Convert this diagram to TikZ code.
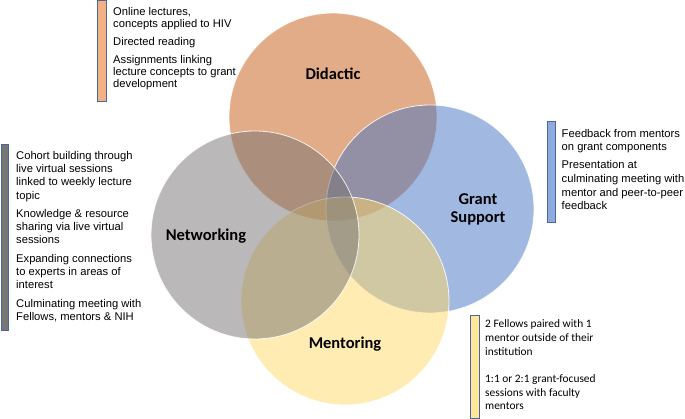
\documentclass[tikz,border=0pt]{standalone}
\usepackage{fontspec}
\setmainfont{Liberation Sans}
\newfontfamily\calfont{Carlito}
\definecolor{cOrange}{HTML}{C55A11}
\definecolor{cBlue}{HTML}{4472C4}
\definecolor{cYellow}{HTML}{FFD966}
\definecolor{cGray}{HTML}{767171}
\definecolor{barOrange}{HTML}{F4B183}
\definecolor{barGray}{HTML}{767676}
\definecolor{barBlue}{HTML}{8FAADC}
\definecolor{barYellow}{HTML}{FFE699}
\definecolor{barLine}{HTML}{4A67A0}
\tikzset{
  venn/.style={circle, minimum size=208pt, inner sep=0pt, fill opacity=0.5, draw=white, draw opacity=0.85, line width=0.8pt},
  vlabel/.style={inner sep=0pt, align=center, font=\calfont\bfseries\fontsize{16.5}{18}\selectfont},
  txt/.style={anchor=base west, inner sep=0pt, font=\fontsize{11.2}{13}\selectfont},
  ctxt/.style={anchor=base west, inner sep=0pt, font=\calfont\fontsize{11.4}{13}\selectfont},
  sidebar/.style={draw=barLine, line width=1pt}
}
\begin{document}
\begin{tikzpicture}[x=1pt,y=-1pt]
\useasboundingbox (0,0) rectangle (685,419);
% circles
\node[venn, fill=cOrange] (did) at (333,117) {};
\node[venn, fill=cBlue] (gra) at (430,209) {};
\node[venn, fill=cYellow] (men) at (345,301) {};
\node[venn, fill=cGray] (net) at (255,235) {};
% circle labels
\node[vlabel] (ldid) at (333,74) {Didactic};
\node[vlabel] (lgra) at (478,209) {Grant\\Support};
\node[vlabel] (lmen) at (345,344) {Mentoring};
\node[vlabel] (lnet) at (206,236) {Networking};
% side bars
\fill[barOrange, sidebar] (97.5,0.5) rectangle (106,101.5);
\fill[barGray, sidebar] (1,145) rectangle (8.5,331);
\fill[barBlue, sidebar] (547,122) rectangle (555,223);
\fill[barYellow, sidebar] (470.5,316) rectangle (479,418);
% top-left text
\node[txt] (t1) at (113,15.5) {Online lectures,};
\node[txt] (t2) at (113,27.5) {concepts applied to HIV};
\node[txt] (t3) at (113,45.5) {Directed reading};
\node[txt] (t4) at (113,63.5) {Assignments linking};
\node[txt] (t5) at (113,75.5) {lecture concepts to grant};
\node[txt] (t6) at (113,87.5) {development};
% left text
\node[txt] (n1) at (16,159.3) {Cohort building through};
\node[txt] (n2) at (16,172.7) {live virtual sessions};
\node[txt] (n3) at (16,186) {linked to weekly lecture};
\node[txt] (n4) at (16,199.3) {topic};
\node[txt] (n5) at (16,217.3) {Knowledge \& resource};
\node[txt] (n6) at (16,230.7) {sharing via live virtual};
\node[txt] (n7) at (16,244) {sessions};
\node[txt] (n8) at (16,262.3) {Expanding connections};
\node[txt] (n9) at (16,275.7) {to experts in areas of};
\node[txt] (n10) at (16,289) {interest};
\node[txt] (n11) at (16,307.3) {Culminating meeting with};
\node[txt] (n12) at (16,320.7) {Fellows, mentors \& NIH};
% grant text
\node[txt] (g1) at (561.5,137.3) {Feedback from mentors};
\node[txt] (g2) at (561.5,151) {on grant components};
\node[txt] (g3) at (561.5,169) {Presentation at};
\node[txt] (g4) at (561.5,182.7) {culminating meeting with};
\node[txt] (g5) at (561.5,196.4) {mentor and peer-to-peer};
\node[txt] (g6) at (561.5,210) {feedback};
% mentoring text
\node[ctxt] (m1) at (485,328) {2 Fellows paired with 1};
\node[ctxt] (m2) at (485,341.6) {mentor outside of their};
\node[ctxt] (m3) at (485,355.2) {institution};
\node[ctxt] (m4) at (485,382.5) {1:1 or 2:1 grant-focused};
\node[ctxt] (m5) at (485,396.1) {sessions with faculty};
\node[ctxt] (m6) at (485,409.7) {mentors};
\end{tikzpicture}
\end{document}
